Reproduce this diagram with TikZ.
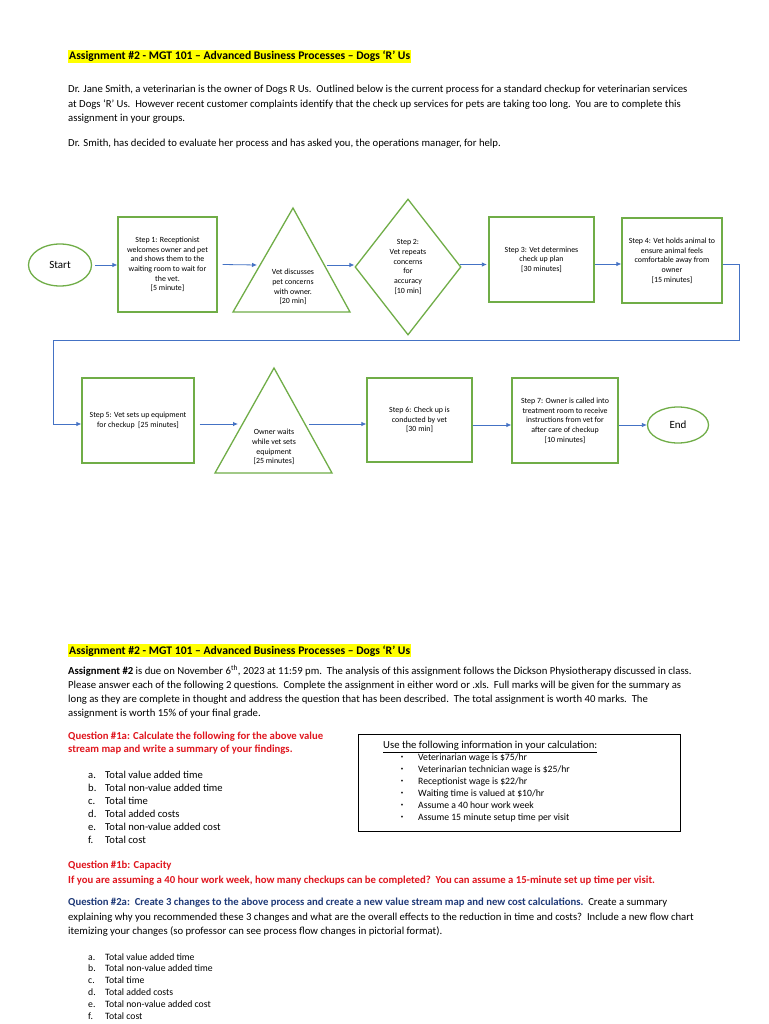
\documentclass[tikz,border=0pt]{standalone}
\usepackage{fontspec}
\setmainfont{Carlito}
\usetikzlibrary{shapes.geometric,arrows.meta}
\definecolor{boxgreen}{HTML}{70AD47}
\definecolor{arrblue}{HTML}{4472C4}
\definecolor{qred}{HTML}{E0161E}
\definecolor{qblue}{HTML}{1F3A78}
\definecolor{hlyellow}{HTML}{FFFF00}
\newcommand\flowfont{\fontsize{7.9}{9.7}\selectfont}
\newcommand\bodyfont{\fontsize{10.7}{13}\selectfont}
\newcommand\ttlfont{\fontsize{11.65}{13}\selectfont\bfseries}
\newcommand\listfont{\fontsize{10.6}{12}\selectfont}
\newcommand\smlistfont{\fontsize{9.7}{12}\selectfont}
\begin{document}
\begin{tikzpicture}[x=1pt,y=-1pt,
  stepbox/.style={draw=boxgreen, line width=1.3pt, rectangle, inner sep=0pt, align=center, font=\flowfont},
  terminal/.style={draw=boxgreen, line width=1.3pt, ellipse, inner sep=0pt, font=\fontsize{11}{13}\selectfont},
  shapeline/.style={draw=boxgreen, line width=1.3pt, line join=miter},
  flowtext/.style={align=center, font=\flowfont, inner sep=0pt},
  arr/.style={draw=arrblue, line width=0.8pt, -{Latex[length=5pt,width=4.5pt]}},
  route/.style={draw=arrblue, line width=0.8pt},
  bodyline/.style={anchor=base west, font=\bodyfont, inner sep=0pt},
  titleline/.style={anchor=base west, font=\ttlfont, fill=hlyellow, inner xsep=1pt, inner ysep=1.5pt},
  listlabel/.style={anchor=base west, font=\listfont, inner sep=0pt},
  smlabel/.style={anchor=base west, font=\smlistfont, inner sep=0pt},
  infobox/.style={draw=black, line width=0.9pt, rectangle, inner sep=0pt},
]
\useasboundingbox[fill=white] (0,0) rectangle (768,1024);

% ---------- header ----------
\node[titleline] (title1) at (68,60) {Assignment \#2 - MGT 101 – Advanced Business Processes – Dogs ‘R’ Us};
\node[bodyline] (p1) at (68,93) {Dr. Jane Smith, a veterinarian is the owner of Dogs R Us.\ \ Outlined below is the current process for a standard checkup for veterinarian services};
\node[bodyline] (p2) at (68,107.5) {at Dogs ‘R’ Us.\ \ However recent customer complaints identify that the check up services for pets are taking too long.\ \ You are to complete this};
\node[bodyline] (p3) at (68,122) {assignment in your groups.};
\node[bodyline] (p4) at (68,147) {Dr. Smith, has decided to evaluate her process and has asked you, the operations manager, for help.};

% ---------- flow chart row 1 ----------
\node[terminal, minimum width=63, minimum height=42] (start) at (60,265) {Start};
\node[stepbox, minimum width=99, minimum height=95] (s1) at (167.5,264.5)
  {Step 1: Receptionist\\welcomes owner and pet\\and shows them to the\\waiting room to wait for\\the vet.\\{}[5 minute]};
\draw[shapeline] (293,208) -- (350,312) -- (233,312) -- cycle;
\node[flowtext] (t1) at (293,287) {Vet discusses\\pet concerns\\with owner.\\{}[20 min]};
\coordinate (t1w) at (257,265);
\coordinate (t1e) at (327,265);
\node[diamond, draw=boxgreen, line width=1.3pt, inner sep=0pt, minimum width=106, minimum height=136, align=center, font=\flowfont] (d2) at (408,267)
  {Step 2:\\Vet repeats\\concerns\\for\\accuracy\\{}[10 min]};
\node[stepbox, minimum width=105, minimum height=85] (s3) at (541.5,259.5)
  {Step 3: Vet determines\\check up plan\\{}[30 minutes]};
\node[stepbox, minimum width=100, minimum height=85] (s4) at (672,260.5)
  {Step 4: Vet holds animal to\\ensure animal feels\\comfortable away from\\owner\\{}[15 minutes]};

\draw[arr] ([xshift=3]start.east) -- (start.east -| s1.west);
\draw[arr] ([xshift=5]s1.east) -- (t1w);
\draw[arr] (t1e) -- (t1e -| d2.west);
\draw[arr] ([xshift=-1.5,yshift=2.5]d2.east) -- ([xshift=-1.5,yshift=2.5]d2.east -| s3.west);
\draw[arr] ([yshift=-4.5]s3.east) -- ([yshift=-4.5]s3.east -| s4.west);

% ---------- flow chart row 2 ----------
\node[stepbox, minimum width=112, minimum height=85] (s5) at (138,420.5)
  {Step 5: Vet sets up equipment\\for checkup\ \ [25 minutes]};
\draw[shapeline] (274,368) -- (332,473) -- (215,473) -- cycle;
\node[flowtext] (t2) at (274,447) {Owner waits\\while vet sets\\equipment\\{}[25 minutes]};
\coordinate (t2w) at (238,424);
\coordinate (t2e) at (309,424);
\node[stepbox, minimum width=105, minimum height=84] (s6) at (419.5,420)
  {Step 6: Check up is\\conducted by vet\\{}[30 min]};
\node[stepbox, minimum width=106, minimum height=85] (s7) at (565,420.5)
  {Step 7: Owner is called into\\treatment room to receive\\instructions from vet for\\after care of checkup\\{}[10 minutes]};
\node[terminal, minimum width=61, minimum height=36] (end) at (678,425) {End};

\coordinate (bendin) at (53,424);
\draw[route] ([yshift=-3.5]s4.east) -- ++(17,0) -- ++(0,76) -| (bendin);
\draw[arr] (bendin) -- (bendin -| s5.west);
\draw[arr] ([xshift=5,yshift=-3.5]s5.east) -- (t2w);
\draw[arr] (t2e) -- (t2e -| s6.west);
\draw[arr] ([yshift=-5]s6.east) -- ([yshift=-5]s6.east -| s7.west);
\draw[arr] ([yshift=-4.5]s7.east) -- ([yshift=-4.5]s7.east -| end.west);

% ---------- second section ----------
\node[titleline] (title2) at (68,654) {Assignment \#2 - MGT 101 – Advanced Business Processes – Dogs ‘R’ Us};
\node[bodyline] (q1) at (68,674.5) {\textbf{Assignment \#2} is due on November 6\textsuperscript{th}, 2023 at 11:59 pm.\ \ The analysis of this assignment follows the Dickson Physiotherapy discussed in class.};
\node[bodyline] (q2) at (68,688.5) {Please answer each of the following 2 questions.\ \ Complete the assignment in either word or .xls.\ \ Full marks will be given for the summary as};
\node[bodyline] (q3) at (68,702.5) {long as they are complete in thought and address the question that has been described.\ \ The total assignment is worth 40 marks.\ \ The};
\node[bodyline] (q4) at (68,716.5) {assignment is worth 15\% of your final grade.};

\node[bodyline, text=qred, font=\bodyfont\bfseries] (qa1) at (68,739.5) {Question \#1a: Calculate the following for the above value};
\node[bodyline, text=qred, font=\bodyfont\bfseries] (qa2) at (68,752.5) {stream map and write a summary of your findings.};

\foreach \l/\t [count=\i from 0] in {a./Total value added time, b./Total non-value added time, c./Total time, d./Total added costs, e./Total non-value added cost, f./Total cost}{
  \node[listlabel] (la\i) at (88,778.5+13*\i) {\l};
  \node[listlabel] (lt\i) at (105,778.5+13*\i) {\t};
}

\node[infobox, minimum width=322, minimum height=97] (info) at (519,782.5) {};
\node[bodyline] (infohead) at (383,748.5) {\underline{Use the following information in your calculation:}};
\foreach \t [count=\i from 0] in {Veterinarian wage is \$75/hr, Veterinarian technician wage is \$25/hr, Receptionist wage is \$22/hr, Waiting time is valued at \$10/hr, Assume a 40 hour work week, Assume 15 minute setup time per visit}{
  \node[anchor=center, inner sep=0pt, font=\fontsize{5}{5}\selectfont] (ib\i) at (402,757+12*\i) {•};
  \node[smlabel] (it\i) at (418,760.5+12*\i) {\t};
}

\node[bodyline, text=qred, font=\bodyfont\bfseries] (qb1) at (68,868.5) {Question \#1b: Capacity};
\node[bodyline, text=qred, font=\bodyfont\bfseries] (qb2) at (68,883) {If you are assuming a 40 hour work week, how many checkups can be completed?\ \ You can assume a 15-minute set up time per visit.};

\node[bodyline] (qc1) at (68,905.5) {\textcolor{qblue}{\textbf{Question \#2a:\ \ Create 3 changes to the above process and create a new value stream map and new cost calculations.}}\ \ Create a summary};
\node[bodyline] (qc2) at (68,920) {explaining why you recommended these 3 changes and what are the overall effects to the reduction in time and costs?\ \ Include a new flow chart};
\node[bodyline] (qc3) at (68,934.5) {itemizing your changes (so professor can see process flow changes in pictorial format).};

\foreach \l/\t [count=\i from 0] in {a./Total value added time, b./Total non-value added time, c./Total time, d./Total added costs, e./Total non-value added cost, f./Total cost}{
  \node[smlabel] (lb\i) at (88,960+11.8*\i) {\l};
  \node[smlabel] (lu\i) at (105,960+11.8*\i) {\t};
}
\end{tikzpicture}
\end{document}
